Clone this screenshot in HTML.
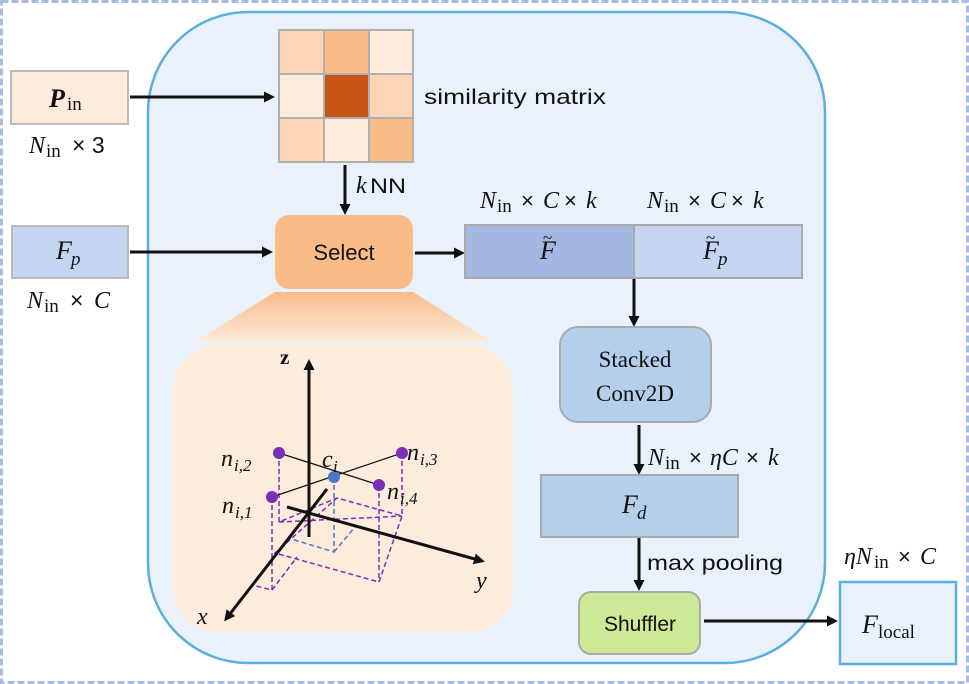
<!DOCTYPE html>
<html><head><meta charset="utf-8"><style>
html,body{margin:0;padding:0;background:#fff}
svg{display:block}
.s{font-family:"Liberation Sans",sans-serif;fill:#111}
.m{font-family:"Liberation Serif",serif;font-style:italic;fill:#111}
.r{font-family:"Liberation Serif",serif;fill:#111}
</style></head><body>
<svg width="969" height="684" viewBox="0 0 969 684" xmlns="http://www.w3.org/2000/svg">
<defs>
<marker id="a" markerWidth="11" markerHeight="11" refX="8" refY="5.5" orient="auto" markerUnits="userSpaceOnUse"><path d="M0,0 L11,5.5 L0,11 z" fill="#111"/></marker>
<linearGradient id="g" x1="0" y1="0" x2="0" y2="1"><stop offset="0" stop-color="#f9bb88"/><stop offset="1" stop-color="#fdebdb"/></linearGradient>
</defs>
<rect x="1.5" y="1.5" width="966" height="681" fill="none" stroke="#a9bbe3" stroke-width="3" stroke-dasharray="7,3"/>
<rect x="148" y="12" width="677" height="651" rx="100" fill="#e9f1fb" stroke="#5aaee0" stroke-width="2.5"/>

<!-- inputs -->
<rect x="11" y="71" width="117" height="53" fill="#fdebd9" stroke="#bbb" stroke-width="2"/>
<text x="49" y="107" class="r" font-size="26" font-weight="bold" font-style="italic">P</text><text x="67" y="110" class="r" font-size="19">in</text>
<text x="29" y="153" class="m" font-size="24">N</text><text x="46" y="157" class="r" font-size="19">in</text><text x="72" y="153" class="s" font-size="23">× 3</text>
<rect x="12" y="226" width="116" height="52" fill="#c5d4f0" stroke="#bbb" stroke-width="2"/>
<text x="56" y="259" class="m" font-size="26">F</text><text x="71" y="265" class="m" font-size="19">p</text>
<text x="27" y="308" class="m" font-size="24">N</text><text x="44" y="312" class="r" font-size="19">in</text><text x="70" y="308" class="s" font-size="23">×</text><text x="94" y="308" class="m" font-size="24">C</text>

<!-- matrix -->
<g stroke="#b0b0b0" stroke-width="2">
<rect x="279" y="30" width="45" height="44" fill="#fcd5b4"/><rect x="324" y="30" width="45" height="44" fill="#f9bb88"/><rect x="369" y="30" width="44" height="44" fill="#fdebdb"/>
<rect x="279" y="74" width="45" height="44" fill="#fdebdb"/><rect x="324" y="74" width="45" height="44" fill="#c55415"/><rect x="369" y="74" width="44" height="44" fill="#fcd5b4"/>
<rect x="279" y="118" width="45" height="44" fill="#fcd5b4"/><rect x="324" y="118" width="45" height="44" fill="#fdebdb"/><rect x="369" y="118" width="44" height="44" fill="#f9bb88"/>
</g>
<text x="424" y="104" class="s" font-size="21" textLength="182" lengthAdjust="spacingAndGlyphs">similarity matrix</text>

<g stroke="#111" stroke-width="3" fill="none">
<line x1="130" y1="97" x2="272" y2="97" marker-end="url(#a)"/>
<line x1="130" y1="252" x2="270" y2="252" marker-end="url(#a)"/>
<line x1="345" y1="165" x2="345" y2="212" marker-end="url(#a)"/>
<line x1="415" y1="253" x2="462" y2="253" marker-end="url(#a)"/>
<line x1="634" y1="279" x2="634" y2="324" marker-end="url(#a)"/>
<line x1="639" y1="425" x2="639" y2="472" marker-end="url(#a)"/>
<line x1="639" y1="538" x2="639" y2="588" marker-end="url(#a)"/>
<line x1="704" y1="621" x2="835" y2="621" marker-end="url(#a)"/>
</g>
<text x="356" y="193" class="m" font-size="24">k</text><text x="370" y="193" class="s" font-size="21" textLength="36" lengthAdjust="spacingAndGlyphs">NN</text>

<rect x="275" y="215" width="138" height="74" rx="14" fill="#f9bb88"/>
<text x="344" y="260" class="s" font-size="22" text-anchor="middle">Select</text>

<!-- F tilde -->
<rect x="465" y="225" width="169" height="53" fill="#a3b7e0" stroke="#aaa" stroke-width="2"/>
<rect x="634" y="225" width="168" height="53" fill="#c5d4f0" stroke="#aaa" stroke-width="2"/>
<text x="540" y="259" class="m" font-size="26">F</text><text x="543" y="243" class="r" font-size="17">~</text>
<text x="703" y="259" class="m" font-size="26">F</text><text x="706" y="243" class="r" font-size="17">~</text><text x="718" y="265" class="m" font-size="19">p</text>
<g>
<text x="480" y="208" class="m" font-size="24">N</text><text x="497" y="212" class="r" font-size="19">in</text><text x="521" y="208" class="s" font-size="22">×</text><text x="543" y="208" class="m" font-size="24">C</text><text x="564" y="208" class="s" font-size="22">×</text><text x="586" y="208" class="m" font-size="24">k</text>
<text x="647" y="208" class="m" font-size="24">N</text><text x="664" y="212" class="r" font-size="19">in</text><text x="688" y="208" class="s" font-size="22">×</text><text x="710" y="208" class="m" font-size="24">C</text><text x="731" y="208" class="s" font-size="22">×</text><text x="753" y="208" class="m" font-size="24">k</text>
</g>

<rect x="560" y="327" width="151" height="95" rx="18" fill="#b3cfeb" stroke="#aaa" stroke-width="2"/>
<text x="635" y="367" class="r" font-size="23" text-anchor="middle">Stacked</text>
<text x="635" y="401" class="r" font-size="23" text-anchor="middle">Conv2D</text>

<text x="648" y="465" class="m" font-size="24">N</text><text x="665" y="469" class="r" font-size="19">in</text><text x="689" y="465" class="s" font-size="22">×</text><text x="710" y="465" class="m" font-size="24">ηC</text><text x="746" y="465" class="s" font-size="22">×</text><text x="768" y="465" class="m" font-size="24">k</text>

<rect x="541" y="475" width="197" height="62" fill="#b3cfeb" stroke="#aaa" stroke-width="2"/>
<text x="622" y="513" class="m" font-size="26">F</text><text x="637" y="519" class="m" font-size="19">d</text>
<text x="647" y="570" class="s" font-size="21" textLength="136" lengthAdjust="spacingAndGlyphs">max pooling</text>

<rect x="579" y="592" width="121" height="62" rx="12" fill="#cde896" stroke="#aaa" stroke-width="2"/>
<text x="640" y="631" class="s" font-size="21" text-anchor="middle">Shuffler</text>

<text x="844" y="564" class="m" font-size="24">ηN</text><text x="874" y="568" class="r" font-size="19">in</text><text x="898" y="564" class="s" font-size="22">×</text><text x="920" y="564" class="m" font-size="24">C</text>
<rect x="840" y="582" width="116" height="82" fill="#e9f1fb" stroke="#5aaee0" stroke-width="2.5"/>
<text x="862" y="633" class="m" font-size="26">F</text><text x="878" y="638" class="r" font-size="19">local</text>

<!-- zoom area -->
<polygon points="275,292 413,292 492,342 195,342" fill="url(#g)"/>
<rect x="173" y="345" width="340" height="288" rx="44" fill="#fdebdb"/>

<g fill="none" stroke-dasharray="5,3" stroke-width="1.5">
<g stroke="#7b2fb8">
<path d="M279,453 V522 L337,498 L402,516 L379,582 L275,553 L337,498"/>
<path d="M402,453 V516"/>
<path d="M379,485 V582"/>
<path d="M272,497 V590 L252,585"/>
<path d="M272,590 L297,557"/>
<path d="M279,522 L402,516"/>
</g>
<g stroke="#4a78c8">
<path d="M334,477 V552 L288,538"/>
<path d="M334,552 L355,527"/>
</g>
</g>
<g stroke="#111" stroke-width="1.2">
<line x1="279" y1="453" x2="379" y2="485"/>
<line x1="272" y1="497" x2="402" y2="453"/>
</g>
<g stroke="#111" stroke-width="3" fill="none">
<line x1="309" y1="537" x2="309" y2="362" marker-end="url(#a)"/>
<line x1="327" y1="489" x2="226" y2="619" marker-end="url(#a)"/>
<line x1="287" y1="507" x2="482" y2="561" marker-end="url(#a)"/>
</g>
<circle cx="279" cy="453" r="6" fill="#7b2fb8"/>
<circle cx="402" cy="453" r="6" fill="#7b2fb8"/>
<circle cx="379" cy="485" r="6" fill="#7b2fb8"/>
<circle cx="272" cy="497" r="6" fill="#7b2fb8"/>
<circle cx="334" cy="477" r="6" fill="#4a78c8"/>
<text x="280" y="364" class="r" font-size="21" font-weight="bold">z</text>
<text x="197" y="624" class="m" font-size="24">x</text>
<text x="476" y="588" class="m" font-size="24">y</text>
<text x="221" y="466" class="m" font-size="24">n</text><text x="234" y="471" class="m" font-size="17">i,2</text>
<text x="322" y="467" class="m" font-size="24">c</text><text x="333" y="472" class="m" font-size="17">i</text>
<text x="407" y="460" class="m" font-size="24">n</text><text x="420" y="465" class="m" font-size="17">i,3</text>
<text x="222" y="513" class="m" font-size="24">n</text><text x="235" y="518" class="m" font-size="17">i,1</text>
<text x="387" y="499" class="m" font-size="24">n</text><text x="400" y="504" class="m" font-size="17">i,4</text>
</svg>
</body></html>
